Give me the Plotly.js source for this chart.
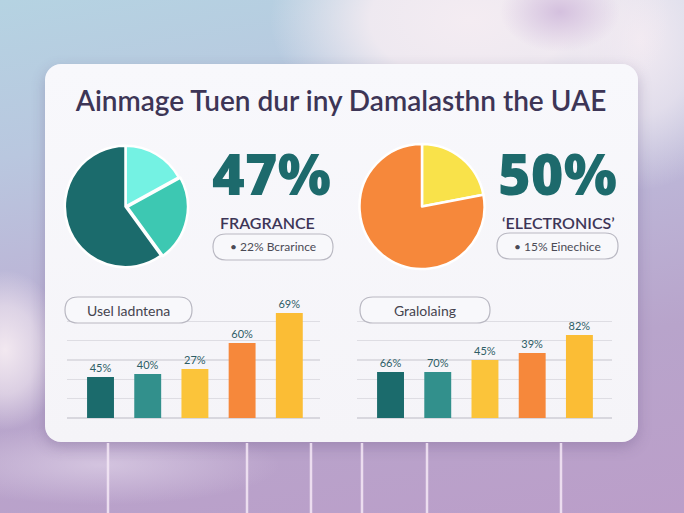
<!DOCTYPE html>
<html>
<head>
<meta charset="utf-8">
<script src="https://cdn.plot.ly/plotly-3.0.1.min.js"></script>
<style>
html,body{margin:0;padding:0;width:684px;height:513px;overflow:hidden;}
body{
  position:relative;
  background:
    radial-gradient(ellipse 60px 40px at 560px 12px, rgba(212,192,222,1) 0%, rgba(212,192,222,0) 100%),
    radial-gradient(ellipse 200px 120px at 470px 20px, rgba(244,236,242,1) 0%, rgba(244,236,242,0.9) 50%, rgba(244,236,242,0) 100%),
    radial-gradient(ellipse 110px 150px at 640px 40px, rgba(242,234,242,1) 0%, rgba(242,234,242,0.7) 50%, rgba(242,234,242,0) 100%),
    radial-gradient(ellipse 60px 80px at 5px 350px, rgba(242,232,240,1) 0%, rgba(242,232,240,0.6) 55%, rgba(242,232,240,0) 100%),
    radial-gradient(ellipse 180px 40px at 100px 465px, rgba(218,204,228,0.8) 0%, rgba(218,204,228,0) 100%),
    linear-gradient(170deg, #b5d3e2 0%, #b9c7df 25%, #bcb4d6 48%, #b8a4cb 70%, #bb9ec9 100%);
}
#card{
  position:absolute;left:45px;top:64px;width:593px;height:378px;border-radius:16px;
  background:linear-gradient(180deg,#f8f8fc 0%,#f5f4f8 100%);
  box-shadow:0 5px 14px rgba(90,70,120,0.28);
}
#chart{position:absolute;left:0;top:0;width:684px;height:513px;}
</style>
</head>
<body>
<div id="card"></div>
<div id="chart"></div>
<script>
// ---- data ----
const titleText = "Ainmage Tuen dur iny Damalasthn the UAE";

const pie1Labels = ["Segment A", "Bcrarince", "Fragrance"];
const pie1Values = [17, 23, 60];
const pie1Colors = ["#74f2e3", "#3dc8b2", "#1b6b6c"];
const pie1Big = "47%";
const pie1Name = "FRAGRANCE";
const pie1Note = "• 22% Bcrarince";

const pie2Labels = ["Einechice", "Electronics"];
const pie2Values = [22, 78];
const pie2Colors = ["#f9e24a", "#f6883b"];
const pie2Big = "50%";
const pie2Name = "‘ELECTRONICS’";
const pie2Note = "• 15% Einechice";

const barCats = ["c1", "c2", "c3", "c4", "c5"];
const bar1Title = "Usel ladntena";
const bar1Values = [21.2, 22.8, 25.3, 38.8, 54.3];
const bar1Labels = ["45%", "40%", "27%", "60%", "69%"];
const bar2Title = "Gralolaing";
const bar2Values = [23.8, 23.8, 30.0, 33.6, 42.9];
const bar2Labels = ["66%", "70%", "45%", "39%", "82%"];
const barColors = ["#1b6b6c", "#32908c", "#fbc43a", "#f6883b", "#fbbd35"];

// ---- helpers (pixel -> paper) ----
const W = 684, H = 513;
const X = v => v / W;
const Y = v => 1 - v / H;
function rr(x0, y0, x1, y1, r) {
  const p = (x, y) => X(x) + "," + Y(y);
  return "M" + p(x0 + r, y0) + " L" + p(x1 - r, y0) + " Q" + p(x1, y0) + " " + p(x1, y0 + r) +
    " L" + p(x1, y1 - r) + " Q" + p(x1, y1) + " " + p(x1 - r, y1) +
    " L" + p(x0 + r, y1) + " Q" + p(x0, y1) + " " + p(x0, y1 - r) +
    " L" + p(x0, y0 + r) + " Q" + p(x0, y0) + " " + p(x0 + r, y0) + " Z";
}

const traces = [
  {type: "pie", labels: pie1Labels, values: pie1Values, sort: false, direction: "clockwise",
   marker: {colors: pie1Colors, line: {color: "#ffffff", width: 2.5}}, pull: [0, 0.03, 0],
   textinfo: "none", hoverinfo: "none", showlegend: false,
   domain: {x: [X(63), X(188)], y: [Y(269), Y(144)]}},
  {type: "pie", labels: pie2Labels, values: pie2Values, sort: false, direction: "clockwise",
   marker: {colors: pie2Colors, line: {color: "#ffffff", width: 2.5}},
   textinfo: "none", hoverinfo: "none", showlegend: false,
   domain: {x: [X(359), X(485)], y: [Y(269), Y(144)]}},
  {type: "bar", x: barCats, y: bar1Values, text: bar1Labels, textposition: "outside", cliponaxis: false,
   marker: {color: barColors}, width: 0.57, xaxis: "x", yaxis: "y", hoverinfo: "none",
   textfont: {family: "Lato, sans-serif", size: 11, color: "#2e5d66"}},
  {type: "bar", x: barCats, y: bar2Values, text: bar2Labels, textposition: "outside", cliponaxis: false,
   marker: {color: barColors}, width: 0.57, xaxis: "x2", yaxis: "y2", hoverinfo: "none",
   textfont: {family: "Lato, sans-serif", size: 11, color: "#2e5d66"}}
];

const axY = {range: [0, 60], dtick: 10, showgrid: true, gridcolor: "#dedde3", gridwidth: 1.5,
  zeroline: true, zerolinecolor: "#d8d7de", zerolinewidth: 1.5, showticklabels: false, ticks: "", fixedrange: true};
const axX = {showticklabels: false, showgrid: false, zeroline: false, ticks: "", type: "category", fixedrange: true};

const vlines = [108, 247, 311, 362, 427, 561].map(x => ({
  type: "line", xref: "paper", yref: "paper", x0: X(x), x1: X(x), y0: Y(443), y1: 0,
  line: {color: "rgba(244,232,246,0.85)", width: 2.5}, layer: "below"}));

const pills = [
  [213, 234, 333, 260], [497, 233, 618, 259], [65, 297, 192, 323], [360, 297, 490, 323]
].map(b => ({type: "path", xref: "paper", yref: "paper", path: rr(b[0], b[1], b[2], b[3], 13),
  fillcolor: "#f8f8fb", line: {color: "#b9b8c2", width: 1.2}, layer: "above"}));

const ann = (text, x, y, size, color, weight, family) => ({
  text, x: X(x), y: Y(y), xref: "paper", yref: "paper", xanchor: "center", yanchor: "middle",
  showarrow: false, font: {size, color, weight: weight || 400, family: family || "Lato, sans-serif"}});

const layout = {
  width: W, height: H, margin: {l: 0, r: 0, t: 0, b: 0},
  paper_bgcolor: "rgba(0,0,0,0)", plot_bgcolor: "rgba(0,0,0,0)",
  showlegend: false,
  title: {text: titleText, x: X(341), xanchor: "center", y: Y(101), yanchor: "middle",
    font: {family: "Lato, sans-serif", size: 28, color: "#3d3556", weight: 600}},
  xaxis: Object.assign({}, axX, {domain: [X(67), X(320)], range: [-0.71, 4.65], anchor: "y"}),
  yaxis: Object.assign({}, axY, {domain: [Y(418), Y(302)], anchor: "x"}),
  xaxis2: Object.assign({}, axX, {domain: [X(357), X(612)], range: [-0.71, 4.69], anchor: "y2"}),
  yaxis2: Object.assign({}, axY, {domain: [Y(418), Y(302)], anchor: "x2"}),
  bargap: 0.4,
  shapes: vlines.concat(pills),
  annotations: [
    ann(pie1Big, 271, 173, 56, "#1d6a6c", 800, "'Open Sans', sans-serif"),
    ann(pie1Name, 267, 222, 16, "#3d3557", 600),
    ann(pie1Note, 273, 247, 12, "#4b4a55", 400),
    ann(pie2Big, 557, 173, 56, "#1d6a6c", 800, "'Open Sans', sans-serif"),
    ann(pie2Name, 558, 222, 16, "#3d3557", 600),
    ann(pie2Note, 557, 246, 12, "#4b4a55", 400),
    ann(bar1Title, 128, 310, 14, "#45444f", 400),
    ann(bar2Title, 425, 310, 14, "#45444f", 400)
  ]
};

Plotly.newPlot("chart", traces, layout, {staticPlot: true, displayModeBar: false});
</script>
</body>
</html>
